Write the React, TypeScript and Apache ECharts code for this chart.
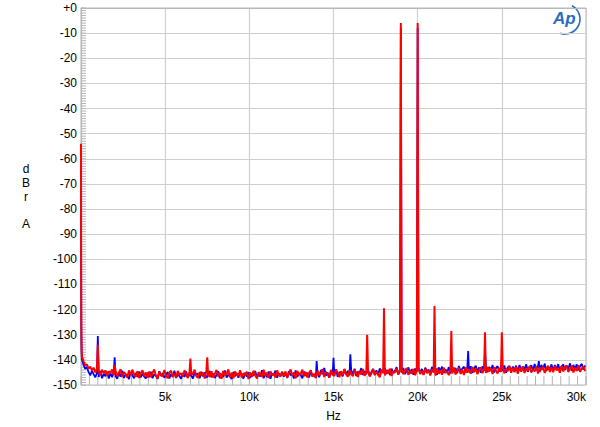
import React, { useEffect, useRef } from "react";
import * as echarts from "echarts";

// ---- data ----
const X_MIN = 0;
const X_MAX = 30000;
const X_INTERVAL = 5000;
const X_MINOR_INTERVAL = 500;
const Y_MIN = -150;
const Y_MAX = 0;
const Y_INTERVAL = 10;
const Y_MINOR_INTERVAL = 1;

const xTickLabels: Record<number, string> = {
  5000: "5k",
  10000: "10k",
  15000: "15k",
  20000: "20k",
  25000: "25k",
  30000: "30k",
};

// noise floor samples: first at 50 Hz, then every 100 Hz
const NOISE_START = 50;
const NOISE_STEP = 100;

const redLowEnd: number[][] = [[0, -54], [8, -98], [18, -124], [32, -134]];
const blueLowEnd: number[][] = [[0, -62], [8, -106], [18, -128], [32, -136]];

const redNoise: number[] = [
  -138.5, -140.6, -142.1, -141.8, -143.5, -142.7, -144.2, -143.1, -145.0, -143.6, -144.8, -146.1, -143.9, -145.4, -144.2, -146.3, -144.6, -145.2, -143.8, -146.0,
  -144.3, -146.5, -145.1, -143.7, -146.8, -144.9, -145.6, -147.0, -144.2, -146.1, -143.9, -145.8, -146.7, -144.5, -147.2, -145.3, -144.1, -146.4, -145.0, -147.1,
  -144.6, -146.9, -145.2, -143.8, -146.3, -147.4, -144.7, -145.9, -146.6, -144.0, -146.2, -147.3, -145.1, -144.3, -146.8, -145.5, -147.0, -144.4, -146.1, -145.3,
  -146.7, -144.1, -145.8, -147.2, -144.6, -146.0, -145.4, -143.9, -146.5, -147.1, -144.8, -146.3, -145.0, -147.4, -144.2, -145.9, -146.8, -144.5, -147.0, -145.6,
  -144.0, -146.6, -145.2, -147.5, -144.4, -146.1, -145.7, -143.8, -146.9, -145.1, -147.3, -144.6, -145.8, -146.4, -144.1, -147.0, -145.3, -146.2, -144.7, -147.6,
  -145.0, -146.8, -144.3, -146.0, -147.4, -144.9, -145.6, -146.7, -143.9, -146.3, -145.1, -147.2, -144.5, -146.1, -145.4, -147.0, -144.2, -145.9, -146.6, -144.8,
  -146.4, -144.6, -147.1, -145.3, -143.8, -146.2, -145.0, -147.3, -144.4, -146.0, -145.7, -143.9, -146.5, -144.8, -147.0, -145.2, -144.1, -146.6, -145.5, -147.2,
  -144.3, -146.1, -145.4, -143.7, -146.8, -144.9, -145.6, -147.0, -144.0, -145.9, -146.4, -143.8, -145.3, -146.9, -144.5, -146.2, -143.6, -145.8, -146.7, -144.2,
  -145.7, -146.5, -143.9, -145.2, -146.8, -144.4, -145.9, -143.6, -146.3, -145.0, -144.1, -146.6, -145.4, -143.7, -146.1, -144.8, -145.6, -146.9, -143.8, -145.3,
  -146.2, -144.0, -145.5, -143.5, -146.4, -144.6, -145.1, -143.4, -145.8, -144.3, -143.9, -145.7, -144.2, -143.3, -146.0, -144.5, -145.4, -143.6, -146.1, -144.0,
  -143.2, -145.6, -144.4, -146.0, -143.5, -145.3, -144.1, -146.2, -143.7, -145.0, -146.3, -143.4, -145.5, -144.2, -145.9, -143.1, -145.2, -144.6, -146.1, -143.6,
  -145.4, -143.0, -145.8, -144.3, -143.2, -145.6, -144.0, -146.0, -142.9, -145.1, -143.7, -145.5, -142.8, -144.9, -143.4, -145.7, -144.1, -142.9, -145.3, -143.5,
  -145.2, -142.8, -144.6, -143.3, -145.6, -142.9, -144.2, -145.4, -143.1, -144.8, -142.7, -145.3, -143.6, -144.5, -142.6, -145.1, -143.2, -144.9, -142.8, -145.5,
  -143.0, -144.7, -142.6, -145.2, -143.4, -144.3, -142.5, -145.0, -143.7, -144.6, -142.4, -145.4, -143.1, -144.1, -142.7, -145.2, -143.5, -142.3, -144.8, -143.0,
  -144.9, -142.5, -144.2, -143.3, -145.1, -142.4, -144.6, -143.0, -142.2, -144.8, -143.6, -142.3, -145.0, -143.2, -144.4, -142.1, -144.7, -143.4, -142.6, -144.5,
];

const blueNoise: number[] = [
  -139.8, -141.9, -143.6, -142.8, -144.9, -146.2, -144.3, -145.7, -147.0, -145.1, -146.8, -144.4, -147.3, -145.6, -146.5, -144.7, -147.4, -145.3, -146.9, -144.8,
  -146.4, -147.5, -145.0, -146.7, -144.3, -147.2, -145.8, -146.3, -147.6, -144.9, -146.1, -147.3, -145.2, -146.8, -144.6, -147.0, -145.5, -146.6, -147.4, -145.1,
  -146.9, -144.7, -147.3, -145.8, -146.2, -147.6, -144.5, -146.4, -145.3, -147.1, -146.0, -144.8, -147.4, -145.6, -146.7, -144.3, -147.2, -145.9, -146.5, -147.5,
  -145.2, -146.8, -144.6, -147.0, -145.7, -146.3, -147.4, -144.9, -146.1, -145.4, -147.3, -144.7, -146.6, -145.0, -147.1, -146.2, -144.4, -146.9, -145.5, -147.2,
  -146.0, -144.5, -147.3, -145.6, -146.8, -144.2, -147.0, -145.9, -146.4, -147.6, -144.8, -146.5, -145.3, -147.1, -144.6, -146.2, -147.4, -145.1, -146.7, -144.9,
  -147.2, -145.5, -146.3, -144.4, -147.0, -145.8, -146.6, -144.1, -147.3, -145.2, -146.9, -144.6, -147.5, -145.7, -146.0, -144.3, -147.1, -145.4, -146.5, -144.8,
  -146.7, -145.0, -147.2, -144.5, -146.1, -145.6, -147.4, -144.2, -146.8, -145.3, -146.0, -147.3, -144.7, -146.4, -145.1, -147.0, -144.4, -146.6, -145.8, -147.2,
  -145.4, -146.9, -144.0, -145.7, -143.2, -146.3, -145.0, -147.1, -144.5, -146.0, -145.6, -143.9, -146.7, -144.8, -145.3, -146.5, -143.7, -145.9, -144.4, -146.2,
  -144.1, -145.8, -143.5, -146.4, -144.7, -145.2, -143.3, -146.0, -144.5, -145.7, -143.8, -146.3, -144.9, -143.6, -145.5, -144.2, -146.1, -143.4, -145.0, -144.6,
  -143.3, -145.6, -144.0, -146.0, -143.5, -145.2, -144.4, -142.9, -145.8, -143.9, -145.1, -143.2, -145.7, -144.3, -143.0, -145.4, -143.7, -145.9, -143.4, -144.8,
  -142.9, -145.3, -143.6, -145.8, -143.1, -144.7, -143.9, -145.5, -142.8, -144.6, -143.3, -145.9, -143.0, -144.4, -142.7, -145.2, -143.8, -144.9, -142.9, -145.4,
  -142.6, -144.8, -143.2, -145.3, -142.4, -144.5, -143.5, -142.7, -145.0, -143.1, -144.9, -142.5, -145.2, -143.4, -142.3, -144.7, -143.0, -145.1, -142.6, -144.3,
  -142.4, -144.9, -142.8, -144.2, -142.1, -145.0, -143.3, -142.5, -144.7, -142.9, -144.4, -142.2, -145.1, -143.0, -142.4, -144.6, -142.7, -144.0, -142.3, -144.8,
  -142.0, -144.5, -142.6, -143.9, -141.8, -144.7, -142.9, -142.2, -144.3, -141.6, -144.1, -142.4, -144.8, -142.0, -143.7, -141.5, -144.4, -142.7, -143.9, -141.8,
  -144.2, -142.1, -143.8, -141.7, -144.5, -142.6, -141.9, -144.0, -142.3, -143.6, -141.4, -144.3, -142.0, -143.7, -141.8, -144.1, -142.5, -141.6, -143.9, -142.2,
];

// spikes [Hz, dBr]
const redSpikes: number[][] = [
  [1000, -134], [2000, -142], [6500, -139.5], [7500, -139],
  [17000, -130], [18000, -119.5], [19000, -6], [20000, -6],
  [21000, -118.6], [22000, -128.5], [24000, -129], [25000, -129],
];
const blueSpikes: number[][] = [
  [1000, -130.5], [2000, -139], [14000, -140.5], [15000, -139.2],
  [16000, -137.8], [19000, -8], [20000, -8], [23000, -136.5],
  [24000, -136.8], [25000, -140.5], [27200, -140.5],
];

function buildSeries(low: number[][], noise: number[], spikes: number[][]) {
  const spikeF = spikes.map((s) => s[0]);
  const noisePts = noise
    .map((v, i) => [NOISE_START + i * NOISE_STEP, v])
    .filter((p) => !spikeF.some((f) => Math.abs(f - p[0]) < 1));
  const pts = [...low, ...noisePts, ...spikes];
  pts.sort((a, b) => a[0] - b[0]);
  return pts;
}

// minor tick positions along each axis (axis furniture, not data marks)
function tickValues(min: number, max: number, step: number) {
  const out: number[] = [];
  for (let v = min; v <= max + 1e-9; v += step) out.push(v);
  return out;
}

const FONT = "'Liberation Sans', Arial, Helvetica, sans-serif";
const TICK_GRAY = "#b4b4b4";
const X_TICK_LEN = 9;
const Y_TICK_LEN = 5;

export default function App() {
  const ref = useRef<HTMLDivElement>(null);
  useEffect(() => {
    if (!ref.current) return;
    const chart = echarts.init(ref.current, null, { renderer: "svg" });
    const xTicks = tickValues(X_MIN, X_MAX, X_MINOR_INTERVAL).map((v) => [v, Y_MIN]);
    const yTicks = tickValues(Y_MIN, Y_MAX, Y_MINOR_INTERVAL).map((v) => [X_MIN, v]);
    chart.setOption({
      animation: false,
      backgroundColor: "#ffffff",
      grid: {
        left: 81,
        right: 14,
        top: 8,
        bottom: 42,
        show: true,
        borderColor: "#b8b8b8",
        borderWidth: 1,
      },
      xAxis: {
        type: "value",
        min: X_MIN,
        max: X_MAX,
        interval: X_INTERVAL,
        name: "Hz",
        nameLocation: "middle",
        nameGap: 25,
        nameTextStyle: { color: "#000", fontSize: 12, fontFamily: FONT },
        axisLine: { show: true, lineStyle: { color: "#b8b8b8" } },
        axisTick: { show: false },
        splitLine: { show: true, lineStyle: { color: "#cfcfcf", width: 1.2 } },
        axisLabel: {
          color: "#000",
          fontSize: 12,
          fontFamily: FONT,
          margin: 6,
          alignMaxLabel: "right",
          formatter: (v: number) => xTickLabels[v] ?? "",
        },
      },
      yAxis: {
        type: "value",
        min: Y_MIN,
        max: Y_MAX,
        interval: Y_INTERVAL,
        axisLine: { show: true, lineStyle: { color: "#b8b8b8" } },
        axisTick: { show: false },
        splitLine: { show: true, lineStyle: { color: "#cfcfcf", width: 1.2 } },
        axisLabel: {
          color: "#000",
          fontSize: 12,
          fontFamily: FONT,
          margin: 4,
          formatter: (v: number) => (v === 0 ? "+0" : String(v)),
        },
      },
      graphic: [
        {
          type: "text",
          x: 26,
          y: 162,
          style: {
            text: "d\nB\nr\n\nA",
            fontSize: 12,
            fontFamily: FONT,
            fill: "#000",
            lineHeight: 13.8,
            align: "center",
            verticalAlign: "top",
          },
        },
        {
          type: "text",
          x: 553,
          y: 10,
          style: {
            text: "Ap",
            fontSize: 17,
            fontStyle: "italic",
            fontWeight: "bold",
            fontFamily: FONT,
            fill: "#2a6cc0",
          },
        },
        {
          type: "arc",
          shape: { cx: 565, cy: 19, r: 15, startAngle: -1.1, endAngle: 1.9, clockwise: true },
          style: { stroke: "#2a6cc0", lineWidth: 1.6, fill: "none" },
        },
      ],
      series: [
        {
          type: "custom",
          silent: true,
          clip: false,
          z: 1,
          data: xTicks,
          renderItem: (_p: any, api: any) => {
            const pt = api.coord([api.value(0), api.value(1)]);
            return {
              type: "line",
              shape: { x1: pt[0], y1: pt[1], x2: pt[0], y2: pt[1] - X_TICK_LEN },
              style: { stroke: TICK_GRAY, lineWidth: 1 },
            };
          },
        },
        {
          type: "custom",
          silent: true,
          clip: false,
          z: 1,
          data: yTicks,
          renderItem: (_p: any, api: any) => {
            const pt = api.coord([api.value(0), api.value(1)]);
            return {
              type: "line",
              shape: { x1: pt[0], y1: pt[1], x2: pt[0] + Y_TICK_LEN, y2: pt[1] },
              style: { stroke: TICK_GRAY, lineWidth: 1 },
            };
          },
        },
        {
          type: "line",
          data: buildSeries(blueLowEnd, blueNoise, blueSpikes),
          showSymbol: false,
          symbol: "none",
          lineStyle: { color: "#0000ff", width: 1.8 },
          z: 2,
        },
        {
          type: "line",
          data: buildSeries(redLowEnd, redNoise, redSpikes),
          showSymbol: false,
          symbol: "none",
          lineStyle: { color: "#ff0000", width: 2 },
          z: 3,
        },
      ],
    });
    return () => chart.dispose();
  }, []);
  return (
    <div
      ref={ref}
      style={{ position: "fixed", left: 0, top: 0, width: 600, height: 427 }}
    />
  );
}
